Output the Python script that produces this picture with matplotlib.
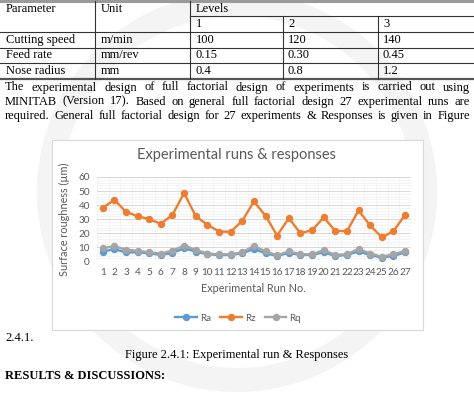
import numpy as np
import matplotlib.pyplot as plt
from matplotlib.patches import Rectangle, Wedge

# === Данные ===
runs = list(range(1, 28))
ra = [6.9, 8.6, 6.4, 6.4, 5.7, 4.5, 6.0, 9.3, 6.9, 5.0, 4.5, 4.5, 5.7, 8.8,
      5.7, 3.8, 6.0, 4.5, 4.5, 6.4, 3.8, 4.5, 7.1, 4.5, 2.6, 3.8, 6.4]
rz = [37.9, 43.8, 35.2, 32.1, 30.0, 26.7, 33.1, 48.6, 32.1, 26.0, 21.2, 21.0,
      28.8, 42.6, 32.4, 18.3, 30.7, 20.0, 22.1, 31.2, 21.7, 21.4, 36.2, 25.5,
      17.1, 21.4, 33.1]
rq = [9.3, 10.7, 8.3, 7.4, 6.4, 5.5, 7.6, 11.2, 8.1, 5.5, 5.0, 5.0, 6.4, 11.0,
      7.1, 4.3, 7.1, 5.0, 5.0, 7.9, 4.5, 5.0, 8.8, 5.5, 3.3, 5.0, 7.4]

table_header = ["Parameter", "Unit", "Levels"]
level_names = ["1", "2", "3"]
param_names = ["Cutting speed", "Feed rate", "Nose radius"]
param_units = ["m/min", "mm/rev", "mm"]
param_levels = [["100", "120", "140"], ["0.15", "0.30", "0.45"], ["0.4", "0.8", "1.2"]]

paragraph = [
    "The experimental design of full factorial design of experiments is carried out using",
    "MINITAB (Version 17). Based on general full factorial design 27 experimental runs are",
    "required. General full factorial design for 27 experiments & Responses is given in Figure",
]

W, H = 474, 395
fig = plt.figure(figsize=(W / 100, H / 100), dpi=100)
fig.patch.set_facecolor('white')

# фон страницы в пикселях
bg = fig.add_axes([0, 0, 1, 1])
bg.set_xlim(0, W)
bg.set_ylim(H, 0)
bg.axis('off')

# водяной знак (бледное кольцо)
bg.add_patch(Wedge((237, 192), 200, 0, 360, width=24, facecolor='#f4f4f4', edgecolor='none', zorder=0))

serif = 'Liberation Serif'
fs = 9.0

# === Таблица ===
bg.plot([0, W], [1, 1], color='#9a9a9a', lw=2.2)
bg.plot([190, W], [16, 16], color='#333333', lw=0.8)
for yl in [32, 48, 63]:
    bg.plot([0, W], [yl, yl], color='#333333', lw=0.8)
bg.plot([0, W], [79, 79], color='#555555', lw=1.6)
for xl in [95, 190]:
    bg.plot([xl, xl], [1, 79], color='#333333', lw=0.8)
for xl in [283, 378]:
    bg.plot([xl, xl], [16, 79], color='#333333', lw=0.8)

col_x = [6, 101, 196, 288, 383]
bg.text(col_x[0], 8.5, table_header[0], family=serif, fontsize=fs, va='center')
bg.text(col_x[1], 8.5, table_header[1], family=serif, fontsize=fs, va='center')
bg.text(col_x[2], 8.5, table_header[2], family=serif, fontsize=fs, va='center')
for j, name in enumerate(level_names):
    bg.text(col_x[2 + j], 24, name, family=serif, fontsize=fs, va='center')
row_y = [40, 55.5, 71]
for i in range(3):
    bg.text(col_x[0], row_y[i], param_names[i], family=serif, fontsize=fs, va='center')
    bg.text(col_x[1], row_y[i], param_units[i], family=serif, fontsize=fs, va='center')
    for j in range(3):
        bg.text(col_x[2 + j], row_y[i], param_levels[i][j], family=serif, fontsize=fs, va='center')

# === Абзац с выравниванием по ширине ===
renderer = fig.canvas.get_renderer()
x_left, x_right = 5, 470
for k, line in enumerate(paragraph):
    y = 87.5 + k * 14.2
    words = line.split()
    objs = [bg.text(0, y, w, family=serif, fontsize=fs, va='center') for w in words]
    widths = [o.get_window_extent(renderer).width for o in objs]
    gap = (x_right - x_left - sum(widths)) / (len(words) - 1)
    x = x_left
    for o, w in zip(objs, widths):
        o.set_x(x)
        x += w + gap

# === Рамка диаграммы ===
bg.add_patch(Rectangle((52, 140), 371, 190, facecolor='white', edgecolor='#d9d9d9', lw=0.8, zorder=2))
bg.text(237, 155, "Experimental runs & responses", family='Lato', fontsize=10.5, color='#595959',
        ha='center', va='center', zorder=3)

# === График ===
ax = fig.add_axes([96.9 / W, 1 - 261.3 / H, 314 / W, (261.3 - 177) / H])
ax.set_facecolor('none')
ax.plot(runs, ra, color='#5b9bd5', lw=1.7, marker='o', ms=4.3, label='Ra', zorder=3)
ax.plot(runs, rz, color='#ed7d31', lw=1.7, marker='o', ms=4.3, label='Rz', zorder=3)
ax.plot(runs, rq, color='#a5a5a5', lw=1.7, marker='o', ms=4.3, label='Rq', zorder=3)
ax.set_xlim(0.5, 27.5)
ax.set_ylim(0, 60)
ax.set_yticks(range(0, 61, 10))
ax.set_xticks(runs)
ax.set_yticks(np.arange(0, 61, 2), minor=True)
ax.set_xticks(np.arange(0.5, 27.6, 1), minor=True)
ax.grid(True, which='major', axis='y', color='#d9d9d9', lw=0.7)
ax.grid(True, which='minor', color='#f0f0f0', lw=0.5)
ax.set_axisbelow(True)
for s in ax.spines.values():
    s.set_visible(False)
ax.tick_params(which='both', length=0)
ax.tick_params(labelsize=7.2, labelcolor='#595959', pad=5)
for lab in ax.get_xticklabels() + ax.get_yticklabels():
    lab.set_family('Lato')
ax.set_xlabel("Experimental Run No.", family='Lato', fontsize=7.8, color='#595959', labelpad=4)
ax.set_ylabel("Surface roughness (µm)", family='Lato', fontsize=7.8, color='#595959', labelpad=6)
leg = ax.legend(loc='upper center', bbox_to_anchor=(0.45, -0.52), ncol=3, frameon=False,
                prop={'family': 'Lato', 'size': 7}, handlelength=2.2, columnspacing=1.0,
                handletextpad=0.3)
for t in leg.get_texts():
    t.set_color('#595959')

# === Подписи ===
bg.text(5, 338, "2.4.1.", family=serif, fontsize=fs, va='center')
bg.text(237, 355, "Figure 2.4.1: Experimental run & Responses", family=serif, fontsize=fs,
        ha='center', va='center')
bg.text(5, 376, "RESULTS & DISCUSSIONS:", family=serif, fontsize=fs, weight='bold', va='center')

fig.savefig('out.png', dpi=100)
